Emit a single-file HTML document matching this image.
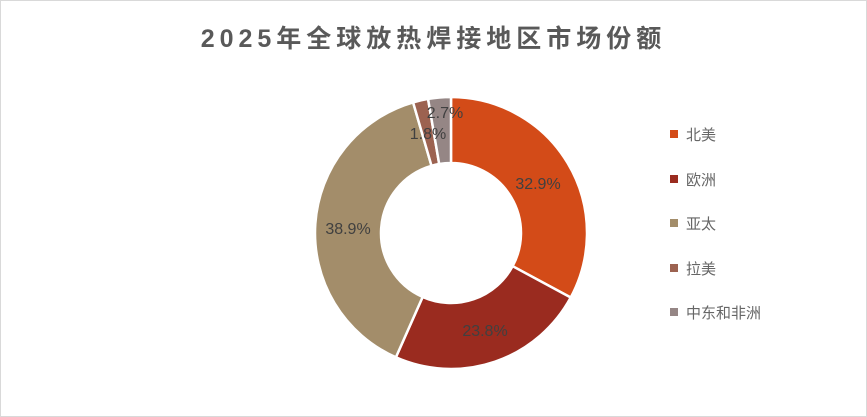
<!DOCTYPE html>
<html><head><meta charset="utf-8"><style>
html,body{margin:0;padding:0;background:#fff;}
#c{position:relative;width:865px;height:415px;border:1px solid #d9d9d9;font-family:"Liberation Sans","Noto Sans CJK SC",sans-serif;overflow:hidden}
.t{position:absolute;left:0;width:865px;top:18px;text-align:center;font-size:25px;font-weight:bold;color:#595959;letter-spacing:5px}
.lg{position:absolute;left:669px;font-size:15px;color:#666}
.lg i{display:inline-block;width:8px;height:8px;margin-right:8px;vertical-align:2px}
</style></head><body><div id="c">
<div class="t">2025年全球放热焊接地区市场份额</div>
<svg id="s" width="865" height="415" style="position:absolute;left:0;top:0"></svg>
<div class="lg" style="top:123px"><i style="background:#d34b18"></i>北美</div>
<div class="lg" style="top:168px"><i style="background:#9a2b1f"></i>欧洲</div>
<div class="lg" style="top:212px"><i style="background:#a38d6a"></i>亚太</div>
<div class="lg" style="top:257px"><i style="background:#9c6250"></i>拉美</div>
<div class="lg" style="top:301px"><i style="background:#958685"></i>中东和非洲</div>
</div>
<script>
var d=[[32.9,'#d34b18'],[23.8,'#9a2b1f'],[38.9,'#a38d6a'],[1.8,'#9c6250'],[2.7,'#958685']];
var cx=450,cy=232,R=136,r=70,tot=100.1,a=0,h='';
function p(rad,ang){return [cx+rad*Math.sin(ang),cy-rad*Math.cos(ang)];}
d.forEach(function(s){var a0=a/tot*2*Math.PI;a+=s[0];var a1=a/tot*2*Math.PI;var l=(a1-a0)>Math.PI?1:0;
var o0=p(R,a0),o1=p(R,a1),i0=p(r,a0),i1=p(r,a1);
h+='<path d="M'+o0+'A'+R+','+R+' 0 '+l+' 1 '+o1+'L'+i1+'A'+r+','+r+' 0 '+l+' 0 '+i0+'Z" fill="'+s[1]+'" stroke="#fff" stroke-width="2.5"/>';});
var L=[['32.9%',537,188],['23.8%',484,335],['38.9%',347,233],['1.8%',427,138],['2.7%',444,117]];
L.forEach(function(t){h+='<text x="'+t[1]+'" y="'+t[2]+'" text-anchor="middle" font-size="16" fill="#404040" font-family="Liberation Sans,sans-serif">'+t[0]+'</text>';});
document.getElementById('s').innerHTML=h;
</script>
</body></html>
